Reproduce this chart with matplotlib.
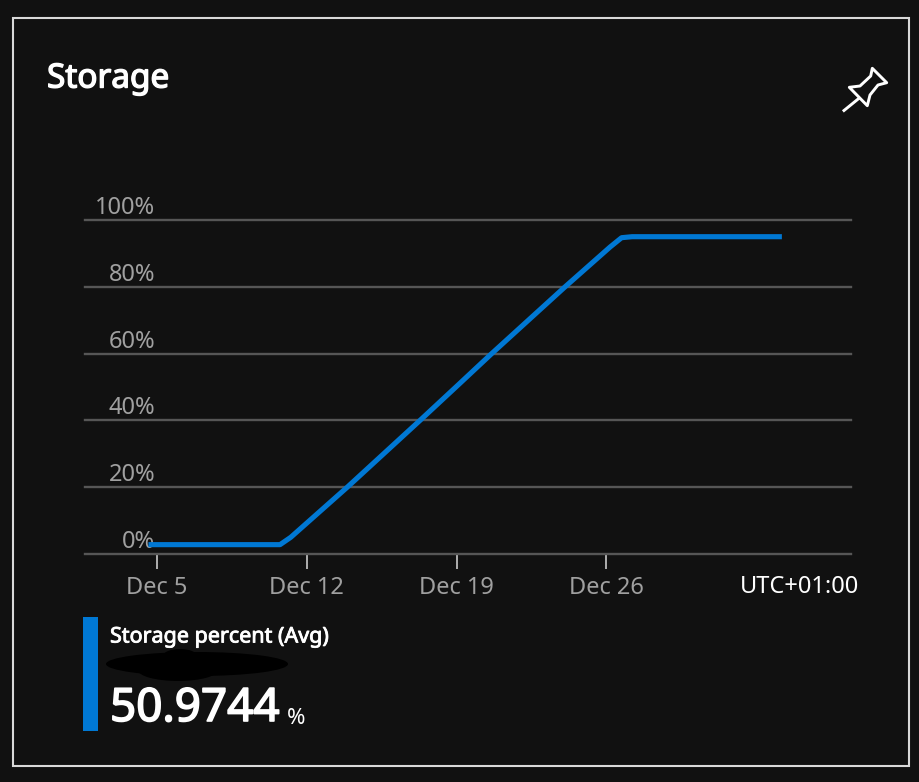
import matplotlib
matplotlib.use("Agg")
import matplotlib.pyplot as plt
import matplotlib.patheffects as pe
from matplotlib.patches import Rectangle, Polygon, Ellipse

BG = "#111111"
BLUE = "#0078D4"
GRID = "#565656"
TICK_TEXT = "#A0A0A0"
WHITE = "#FFFFFF"
BORDER = "#D9D9D9"
W = 920
H = 782

# day of December, storage percent
days = [4.6, 10.75, 11.25, 13.89, 17.29, 19.07, 20.64, 24.07, 26.17, 26.71, 27.2, 34.2]
percent = [2.8, 2.8, 5.0, 20.0, 40.0, 50.6, 60.0, 80.0, 91.9, 94.7, 95.0, 95.0]

x_ticks = [5, 12, 19, 26]
x_labels = ["Dec 5", "Dec 12", "Dec 19", "Dec 26"]
y_ticks = [0, 20, 40, 60, 80, 100]
y_labels = ["0%", "20%", "40%", "60%", "80%", "100%"]

plt.rcParams['font.family'] = 'Noto Sans'

fig = plt.figure(figsize=(W / 100, H / 100), dpi=100, facecolor=BG)

# Chart axes, placed by pixel position
ax = fig.add_axes([85 / W, 1 - 554 / H, (851 - 85) / W, (554 - 220) / H], facecolor=BG)
ax.set_xlim(5 + (85 - 157) / 21.4, 5 + (851 - 157) / 21.4)
ax.set_ylim(0, 100)
for s in ax.spines.values():
	s.set_visible(False)

ax.set_yticks(y_ticks)
ax.set_yticklabels(y_labels)
ax.set_xticks(x_ticks)
ax.set_xticklabels(x_labels)
ax.grid(axis='y', color=GRID, linewidth=1.7)
for gl in ax.get_ygridlines():
	gl.set_clip_on(False)
ax.tick_params(axis='y', length=0, pad=-50.4, labelsize=17, labelcolor=TICK_TEXT)
ax.tick_params(axis='x', length=10.5, width=1.1, color=BORDER, pad=5, labelsize=17, labelcolor=TICK_TEXT)
for lab in ax.get_yticklabels():
	lab.set_va('bottom')

ax.plot(days, percent, color=BLUE, linewidth=3.7, zorder=3, solid_capstyle='butt', solid_joinstyle='round', clip_on=False)

# Overlay in pixel coordinates for the tile furniture
ov = fig.add_axes([0, 0, 1, 1], facecolor='none')
ov.set_xlim(0, W)
ov.set_ylim(H, 0)
ov.axis('off')

ov.add_patch(Rectangle((13.5, 18), 896, 748, fill=False, edgecolor=BORDER, linewidth=1.5))
ov.add_patch(Rectangle((83, 617), 15, 114, facecolor=BLUE, edgecolor='none'))

# Noto Sans only comes in regular here, thicken the heavier labels with a stroke
title = ov.text(47, 79, "Storage", color=WHITE, fontsize=24, va='center', ha='left')
title.set_path_effects([pe.withStroke(linewidth=1.0, foreground=WHITE)])
ov.text(859, 587, "UTC+01:00", color=WHITE, fontsize=17, va='center', ha='right')
name = ov.text(110, 637, "Storage percent (Avg)", color=WHITE, fontsize=15.5, va='center', ha='left')
name.set_path_effects([pe.withStroke(linewidth=0.6, foreground=WHITE)])
value = ov.text(110, 709, "50.9744", color=WHITE, fontsize=33, va='center', ha='left')
value.set_path_effects([pe.withStroke(linewidth=1.2, foreground=WHITE)])
ov.text(287, 719, "%", color=WHITE, fontsize=16, va='center', ha='left')

# Scribbled out resource name
ov.add_patch(Ellipse((197, 664), 182, 24, facecolor='black', edgecolor='none'))
ov.add_patch(Ellipse((178, 670), 80, 22, facecolor='black', edgecolor='none'))
ov.add_patch(Ellipse((180, 656), 34, 14, facecolor='black', edgecolor='none'))

# Pin icon
pin = [(872.3, 68.3), (886.7, 82.7), (878, 85), (870, 95), (867.3, 105.7), (849.3, 87.3), (860, 86), (870.7, 76)]
ov.add_patch(Polygon(pin, closed=True, fill=False, edgecolor=WHITE, linewidth=2.1, joinstyle='round'))
ov.plot([859, 844], [98.3, 110.5], color=WHITE, linewidth=2.1)

fig.savefig("out.png", dpi=100, facecolor=BG)
